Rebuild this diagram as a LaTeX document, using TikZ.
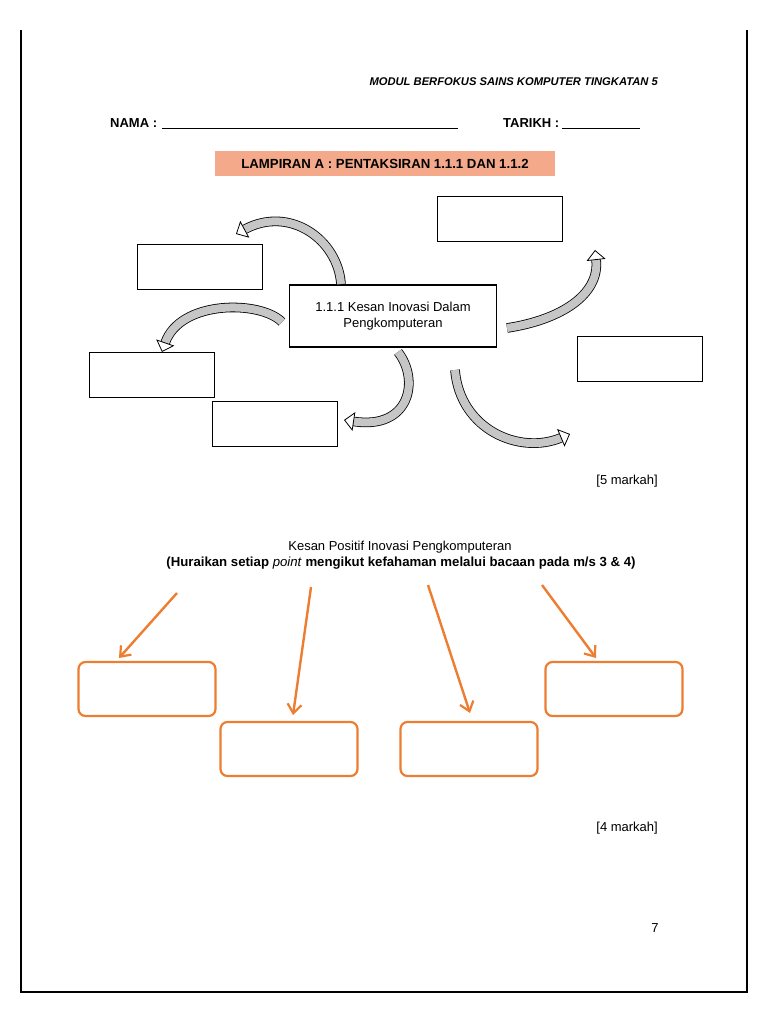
\documentclass[tikz,border=0pt]{standalone}
\usepackage{fontspec}
\setmainfont{Liberation Sans}
\usetikzlibrary{arrows.meta}
\definecolor{org}{HTML}{ED7D31}
\definecolor{salmon}{HTML}{F4A98A}
\begin{document}
\begin{tikzpicture}[x=1pt,y=-1pt,
  bbox/.style={draw,line width=1.6pt,minimum width=125pt,minimum height=45pt,inner sep=0pt},
  obox/.style={draw=org,line width=2.2pt,rounded corners=7pt,minimum width=137pt,minimum height=54pt,inner sep=0pt},
  oarr/.style={draw=org,line width=2.4pt,-{Straight Barb[length=9pt,width=14pt,line width=2.2pt]}},
  barr/.style={draw=black,line width=0.8pt,double=gray!45,double distance=8pt,
    -{Triangle[fill=white,line width=0.8pt,length=10pt,width=19pt]}},
  txt/.style={inner sep=0pt,font=\fontsize{13}{15}\selectfont}]
\useasboundingbox (0,0) rectangle (768,1024);
\draw[line width=2pt] (21,30) -- (21,992) -- (747,992) -- (747,30);
\node[txt,anchor=east,font=\fontsize{11.2}{13}\selectfont\bfseries\itshape] (hdr) at (658,82) {MODUL BERFOKUS SAINS KOMPUTER TINGKATAN 5};
\node[txt,anchor=west,font=\fontsize{13}{15}\selectfont\bfseries] (nama) at (110,123) {NAMA :};
\draw[line width=0.8pt] (162,128) -- (458,128);
\node[txt,anchor=west,font=\fontsize{13}{15}\selectfont\bfseries] (tarikh) at (503,123) {TARIKH :};
\draw[line width=0.8pt] (562,128) -- (640,128);
\node[fill=salmon,minimum width=340pt,minimum height=25pt,inner sep=0pt,font=\fontsize{13.2}{15}\selectfont\bfseries] (lamp) at (385,164) {LAMPIRAN A : PENTAKSIRAN 1.1.1 DAN 1.1.2};
\node[bbox,minimum width=207pt,minimum height=62pt,align=center,font=\fontsize{13}{16}\selectfont] (c) at (393,316) {1.1.1 Kesan Inovasi Dalam\\Pengkomputeran};
\node[bbox] (tr) at (500,219) {};
\node[bbox] (tl) at (200,267) {};
\node[bbox] (l) at (152,375) {};
\node[bbox] (b) at (275,424) {};
\node[bbox] (r) at (640,359) {};
\coordinate (a1s) at (341,284); \coordinate (a1e) at (236,234);
\draw[barr] (a1s) .. controls (338,240) and (290,205) .. (a1e);
\coordinate (a2s) at (282,322); \coordinate (a2e) at (162,352);
\draw[barr] (a2s) .. controls (260,300) and (180,300) .. (a2e);
\coordinate (a3s) at (398,352); \coordinate (a3e) at (344,420);
\draw[barr] (a3s) .. controls (420,380) and (410,430) .. (a3e);
\coordinate (a4s) at (455,370); \coordinate (a4e) at (570,434);
\draw[barr] (a4s) .. controls (460,430) and (520,455) .. (a4e);
\coordinate (a5s) at (507,328); \coordinate (a5e) at (595,250);
\draw[barr] (a5s) .. controls (560,320) and (600,295) .. (a5e);
\node[txt,anchor=east] (m5) at (658,481) {[5 markah]};
\node[txt] (k1) at (400,547) {Kesan Positif Inovasi Pengkomputeran};
\node[txt,font=\fontsize{13.2}{15}\selectfont\bfseries] (k2) at (401,563) {(Huraikan setiap \textmd{\itshape point} mengikut kefahaman melalui bacaan pada m/s 3 \& 4)};
\node[obox] (o1) at (147,689) {};
\node[obox] (o2) at (289,749) {};
\node[obox] (o3) at (469,749) {};
\node[obox] (o4) at (614,689) {};
\coordinate (s1) at (177,593); \coordinate (e1) at (119,658);
\coordinate (s2) at (311,587); \coordinate (e2) at (293,715);
\coordinate (s3) at (428,585); \coordinate (e3) at (470,713);
\coordinate (s4) at (542,585); \coordinate (e4) at (596,658);
\draw[oarr] (s1) -- (e1);
\draw[oarr] (s2) -- (e2);
\draw[oarr] (s3) -- (e3);
\draw[oarr] (s4) -- (e4);
\node[txt,anchor=east] (m4) at (658,828) {[4 markah]};
\node[txt] (pg) at (655,928) {7};
\end{tikzpicture}
\end{document}
